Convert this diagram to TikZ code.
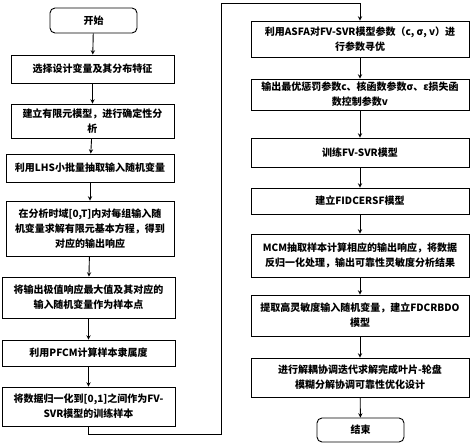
\documentclass[tikz,border=0pt]{standalone}
\usepackage{fontspec}
\setmainfont{Noto Sans CJK SC}
\usetikzlibrary{positioning}

\tikzset{
  stepbox/.style={draw, line width=0.9pt, align=center, inner sep=2pt,
    font=\fontsize{10}{15}\selectfont\bfseries},
  termbox/.style={stepbox, rounded corners=5pt},
  flow/.style={->, line width=0.9pt},
}

\begin{document}
\begin{tikzpicture}[x=1pt, y=1pt, >=stealth]
        \useasboundingbox (0,0) rectangle (474,-444);

        % Left column
        \node[termbox, minimum width=87, minimum height=25] (start) at (93.5,-20.5) {开始};
        \node[stepbox, minimum width=163, minimum height=28] (vars) at (92.5,-69) {选择设计变量及其分布特征};
        \node[stepbox, minimum width=163, minimum height=34] (fem) at (92.5,-121) {建立有限元模型，进行确定性分\\析};
        \node[stepbox, minimum width=168, minimum height=28] (lhs) at (90,-168) {利用LHS小批量抽取输入随机变量};
        \node[stepbox, minimum width=168, minimum height=55] (solve) at (90,-228.5) {在分析时域[0,T]内对每组输入随\\机变量求解有限元基本方程，得到\\对应的输出响应};
        \node[stepbox, minimum width=173, minimum height=41] (sample) at (88.5,-297.5) {将输出极值响应最大值及其对应的\\输入随机变量作为样本点};
        \node[stepbox, minimum width=173, minimum height=26] (pfcm) at (88.5,-353) {利用PFCM计算样本隶属度};
        \node[stepbox, minimum width=173, minimum height=39] (norm) at (88.5,-406.5) {将数据归一化到[0,1]之间作为FV-\\SVR模型的训练样本};

        % Right column
        \node[stepbox, minimum width=218, minimum height=36] (asfa) at (360,-39) {利用ASFA对FV-SVR模型参数（c, σ, v）进\\行参数寻优};
        \node[stepbox, minimum width=218, minimum height=31] (best) at (360,-94.5) {输出最优惩罚参数c、核函数参数σ、ε损失函\\数控制参数v};
        \node[stepbox, minimum width=218, minimum height=29] (train) at (360,-152.5) {训练FV-SVR模型};
        \node[stepbox, minimum width=218, minimum height=26] (fid) at (360,-201) {建立FIDCERSF模型};
        \node[stepbox, minimum width=218, minimum height=43] (mcm) at (360,-255.5) {MCM抽取样本计算相应的输出响应，将数据\\反归一化处理，输出可靠性灵敏度分析结果};
        \node[stepbox, minimum width=218, minimum height=41] (rbdo) at (360,-315.5) {提取高灵敏度输入随机变量，建立FDCRBDO\\模型};
        \node[stepbox, minimum width=218, minimum height=39] (opt) at (360,-377.5) {进行解耦协调迭代求解完成叶片-轮盘\\模糊分解协调可靠性优化设计};
        \node[termbox, minimum width=87, minimum height=24] (stop) at (360.5,-430) {结束};

        % Arrows
        \draw[flow] (start) -- (vars);
        \draw[flow] (vars) -- (fem);
        \draw[flow] (fem) -- (lhs);
        \draw[flow] (lhs) -- (solve);
        \draw[flow] (solve) -- (sample);
        \draw[flow] (sample) -- (pfcm);
        \draw[flow] (pfcm) -- (norm);

        \coordinate (loop) at (221,-3);
        \draw[flow] (norm.south) -- ++(0,-8) -| (loop) -| (asfa.north);

        \draw[flow] (asfa) -- (best);
        \draw[flow] (best) -- (train);
        \draw[flow] (train) -- (fid);
        \draw[flow] (fid) -- (mcm);
        \draw[flow] (mcm) -- (rbdo);
        \draw[flow] (rbdo) -- (opt);
        \draw[flow] (opt) -- (stop);
\end{tikzpicture}
\end{document}
